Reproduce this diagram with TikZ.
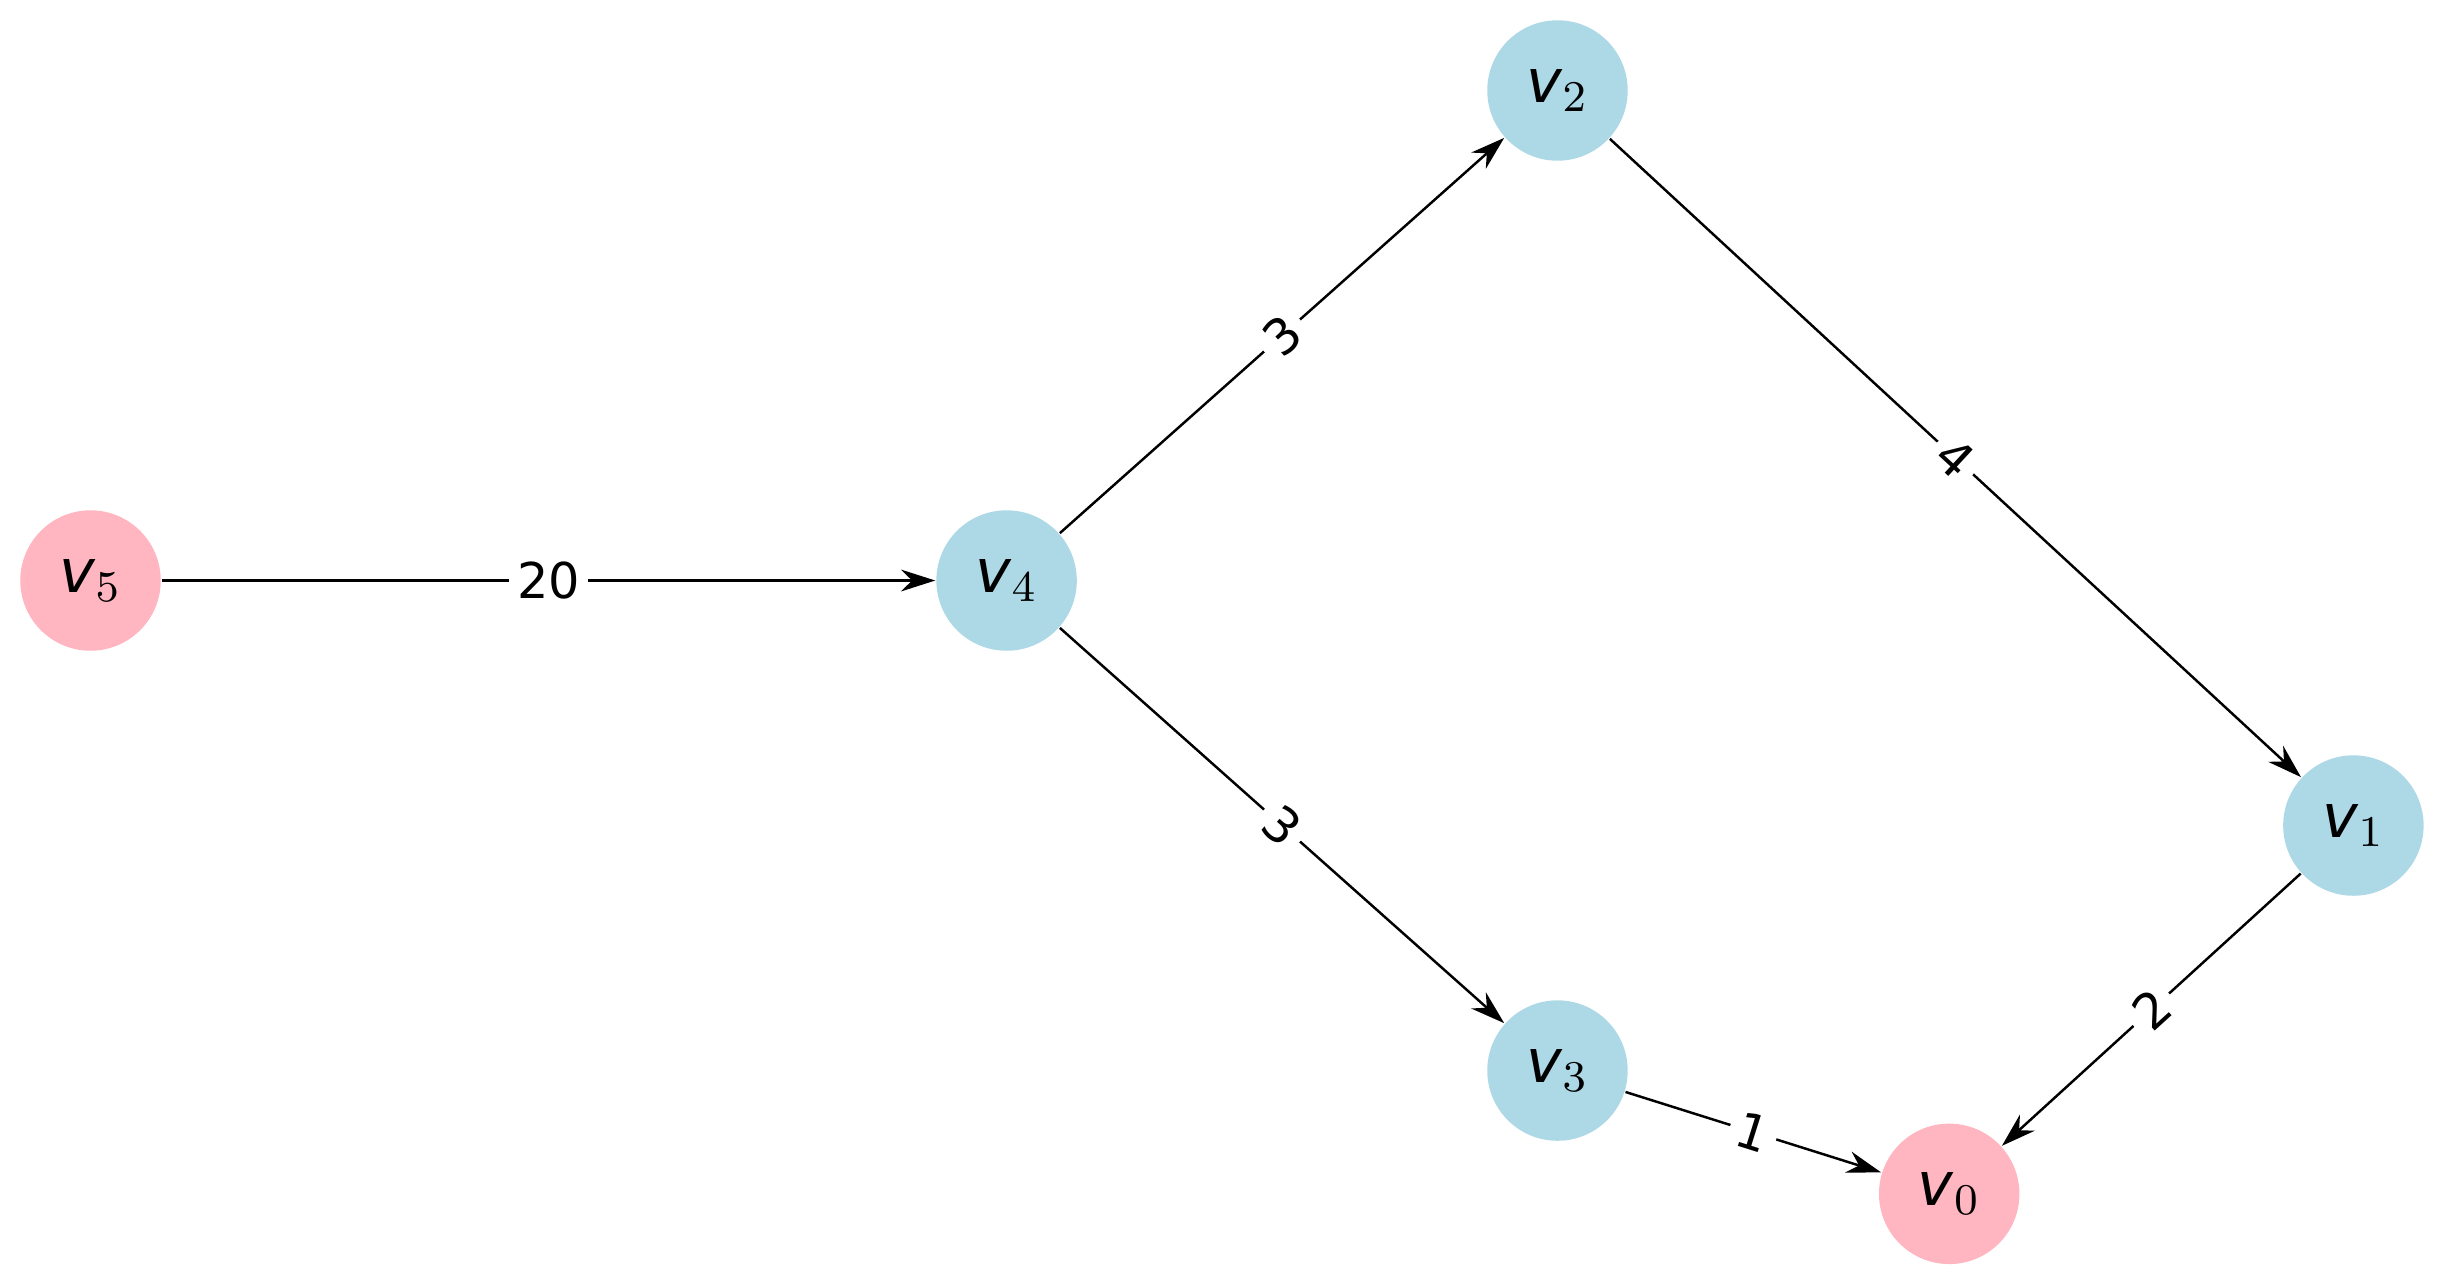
\documentclass[tikz,border=0pt]{standalone}
\usepackage{fontspec}
\setmainfont{DejaVu Sans}
\usetikzlibrary{arrows.meta}
\begin{document}
\begin{tikzpicture}
\useasboundingbox (0,0) rectangle (15.68,8.23);
\tikzset{
 vb/.style={circle,fill=cyan!20!blue!10!white,fill={rgb,255:red,173;green,216;blue,230},minimum size=0.9cm,inner sep=0pt,font=\fontsize{11}{11}\selectfont},
 vp/.style={circle,fill={rgb,255:red,255;green,182;blue,193},minimum size=0.9cm,inner sep=0pt,font=\fontsize{11}{11}\selectfont},
 edge/.style={-{Stealth[length=2.2mm,width=1.4mm]},line width=0.45pt},
 lab/.style={fill=white,inner sep=1.5pt,sloped,font=\fontsize{9}{9}\selectfont}
}
\node[vp] (v5) at (0.58,4.51) {\textit{v}$_5$};
\node[vb] (v4) at (6.45,4.51) {\textit{v}$_4$};
\node[vb] (v2) at (9.98,7.65) {\textit{v}$_2$};
\node[vb] (v1) at (15.08,2.94) {\textit{v}$_1$};
\node[vb] (v3) at (9.98,1.37) {\textit{v}$_3$};
\node[vp] (v0) at (12.49,0.58) {\textit{v}$_0$};
\draw[edge] (v5) -- node[lab]{20} (v4);
\draw[edge] (v4) -- node[lab]{3} (v2);
\draw[edge] (v4) -- node[lab]{3} (v3);
\draw[edge] (v2) -- node[lab]{4} (v1);
\draw[edge] (v1) -- node[lab]{2} (v0);
\draw[edge] (v3) -- node[lab]{1} (v0);
\end{tikzpicture}
\end{document}
